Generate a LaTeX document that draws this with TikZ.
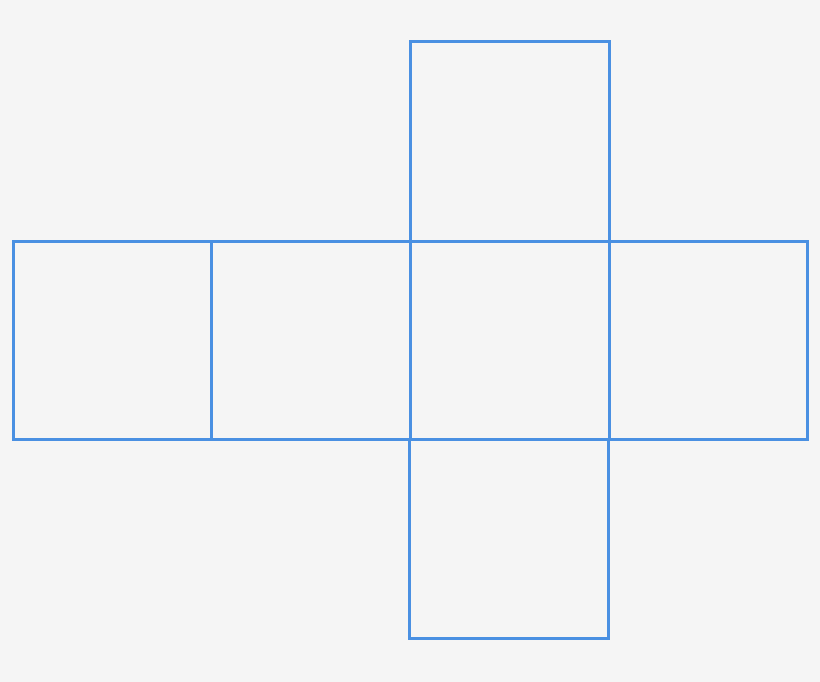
\documentclass[tikz,border=0pt]{standalone}
\definecolor{bg}{HTML}{F5F5F5}
\definecolor{netblue}{HTML}{4A90E2}
\tikzset{face/.style={draw=netblue, line width=3pt}}
\begin{document}
\begin{tikzpicture}[x=1pt,y=-1pt]
\fill[bg] (0,0) rectangle (820,682);
\useasboundingbox (0,0) rectangle (820,682);
\draw[face] (13,241) rectangle (211,439);
\draw[face] (211,241) rectangle (410,439);
\draw[face] (410,241) rectangle (609,439);
\draw[face] (609,241) rectangle (807,439);
\draw[face] (410,42) rectangle (609,241);
\draw[face] (409,439) rectangle (608,638);
\end{tikzpicture}
\end{document}
